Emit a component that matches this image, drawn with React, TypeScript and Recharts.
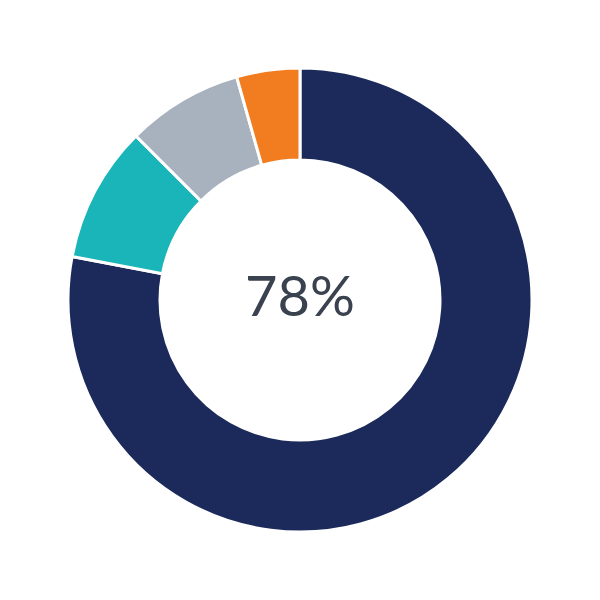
import React from 'react';
import { PieChart, Pie, Cell } from 'recharts';

const categories = ['Navy', 'Teal', 'Gray', 'Orange'];
const values = [78, 9.5, 8.1, 4.4];
const colors = ['#1b2a5a', '#1ab5b8', '#a8b2be', '#f27d20'];
const centerLabel = '78%';

const data = categories.map((name, i) => ({ name, value: values[i] }));

export default function App() {
  return (
    <div style={{ position: 'absolute', left: 0, top: 0, width: 600, height: 600, background: '#fff' }}>
      <PieChart width={600} height={600} margin={{ top: 0, right: 0, bottom: 0, left: 0 }}>
        <Pie
          data={data}
          dataKey="value"
          cx={300}
          cy={300}
          innerRadius={140}
          outerRadius={232}
          startAngle={90}
          endAngle={-270}
          stroke="#ffffff"
          strokeWidth={3}
          isAnimationActive={false}
        >
          {data.map((d, i) => (
            <Cell key={d.name} fill={colors[i]} />
          ))}
        </Pie>
        <text
          x={300}
          y={294}
          textAnchor="middle"
          dominantBaseline="central"
          style={{ fontFamily: 'Lato, sans-serif', fontSize: 56, fill: '#3a4250' }}
        >
          {centerLabel}
        </text>
      </PieChart>
    </div>
  );
}
